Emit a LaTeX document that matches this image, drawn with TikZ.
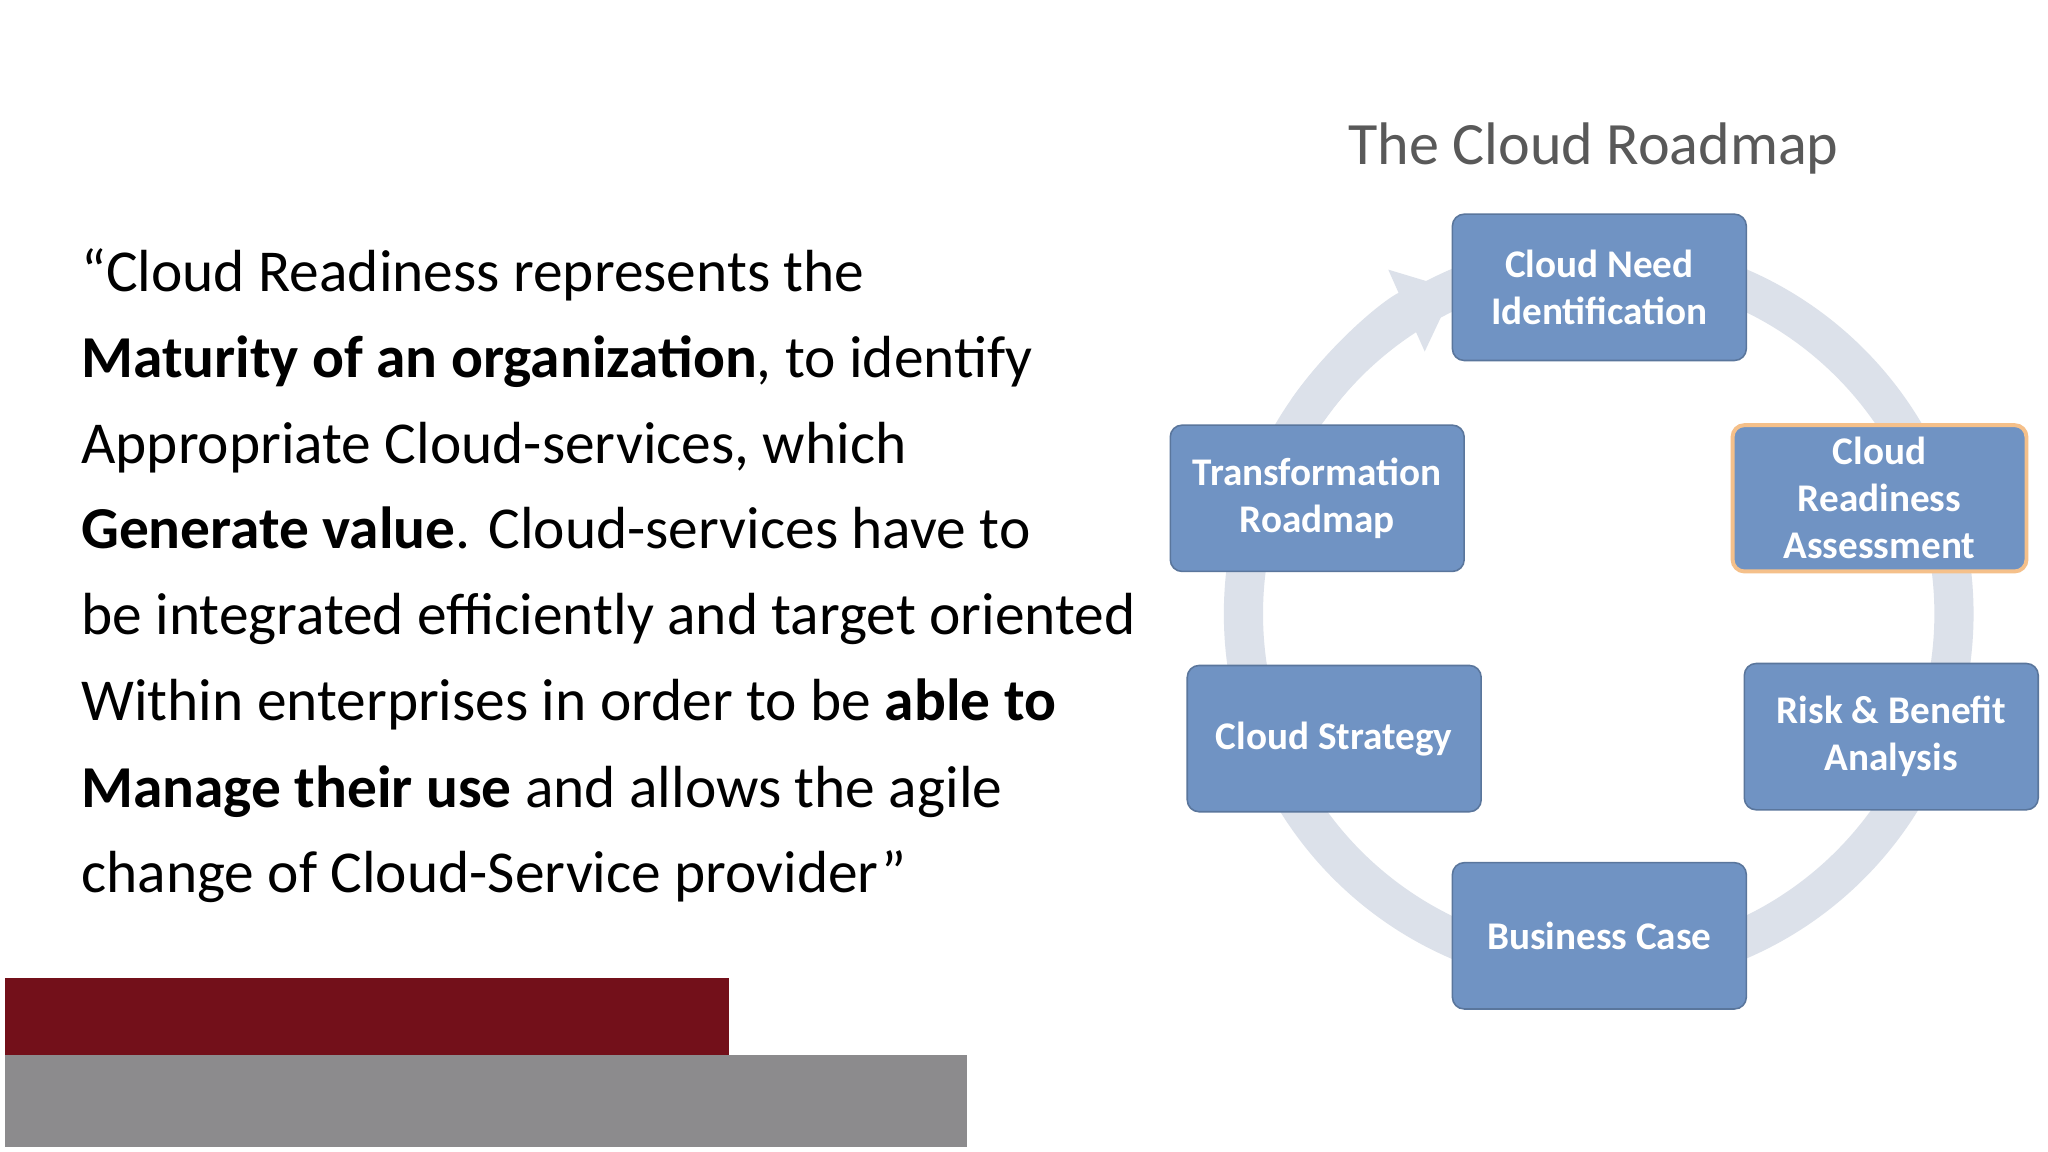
\documentclass[tikz,border=0pt]{standalone}
\usepackage{fontspec}
\setmainfont{Carlito}
\usetikzlibrary{arrows.meta}
\definecolor{boxblue}{HTML}{7093C3}
\definecolor{ringc}{HTML}{DCE1EA}
\definecolor{darkred}{HTML}{73101A}
\definecolor{bargrey}{HTML}{8C8B8D}
\definecolor{orangeb}{HTML}{F5C08A}
\tikzset{
  stage/.style={draw=boxblue!80!black, line width=1.2pt, fill=boxblue, rounded corners=9pt, text=white, align=center, font=\fontsize{30}{36}\selectfont\bfseries, minimum width=225pt, minimum height=112pt, inner sep=2pt},
  quote/.style={anchor=base west, font=\fontsize{45.5}{50}\selectfont, inner sep=0pt}
}
\begin{document}
\begin{tikzpicture}[x=1pt,y=-1pt]
\useasboundingbox (0,0) rectangle (1568,882);
\fill[white] (0,0) rectangle (1568,882);
% bars
\fill[darkred] (4,749) rectangle (558,808);
\fill[bargrey] (4,808) rectangle (740,878);
% quote
\node[quote] (l1) at (62,223) {“Cloud Readiness represents the};
\node[quote] (l2) at (62,289) {\textbf{Maturity of an organization}, to identify};
\node[quote] (l3) at (62,355) {Appropriate Cloud-services, which};
\node[quote] (l4) at (62,420) {\textbf{Generate value}. Cloud-services have to};
\node[quote] (l5) at (62,486) {be integrated efficiently and target oriented};
\node[quote] (l6) at (62,552) {Within enterprises in order to be \textbf{able to}};
\node[quote] (l7) at (62,618) {\textbf{Manage their use} and allows the agile};
\node[quote] (l8) at (62,683) {change of Cloud-Service provider”};
% title
\node[text=black!65, font=\fontsize{46}{54}\selectfont] (title) at (1220,114) {The Cloud Roadmap};
% ring
\coordinate (c) at (1224,470);
\draw[ringc, line width=30pt] (c) circle[radius=272];
\draw[ringc, line width=30pt, -{Triangle[width=66pt,length=40pt]}] (c) ++(215:272) arc[start angle=215, end angle=246, radius=272];
% boxes
\node[stage] (need) at (1224.5,220) {Cloud Need\\Identification};
\node[stage, draw=orangeb, line width=3pt] (cra) at (1439,381.5) {Cloud\\Readiness\\Assessment};
\node[stage] (risk) at (1448,564) {Risk \& Benefit\\Analysis};
\node[stage] (bc) at (1224.5,716.5) {Business Case};
\node[stage] (cs) at (1021.5,565.5) {Cloud Strategy};
\node[stage] (tr) at (1008.5,381.5) {Transformation\\Roadmap};
\end{tikzpicture}
\end{document}
